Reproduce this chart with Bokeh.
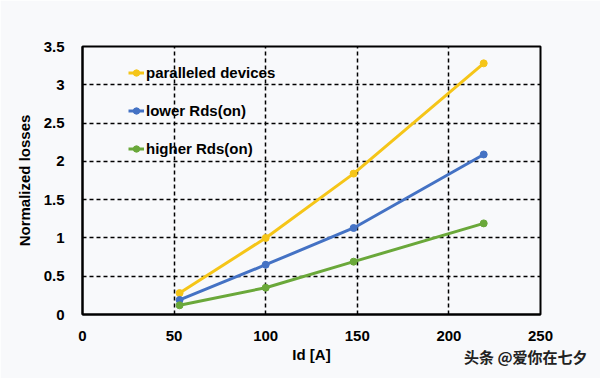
from bokeh.plotting import figure
from bokeh.models import Range1d, FixedTicker, Legend, LegendItem, Title
from bokeh.embed import file_html
from bokeh.resources import INLINE

x_vals = [53, 100, 148, 219]
paralleled = [0.28, 1.0, 1.84, 3.28]
lower_rds = [0.19, 0.65, 1.13, 2.09]
higher_rds = [0.12, 0.35, 0.69, 1.19]
series_names = ["paralleled devices", "lower Rds(on)", "higher Rds(on)"]
colors = ["#f5c518", "#4472c4", "#6aa83a"]
watermark = "头条 @爱你在七夕"

BG = "#f8f9fb"
FONT = "Liberation Sans"

p = figure(width=600, height=378, output_backend="svg", toolbar_location=None,
           x_range=Range1d(0, 250), y_range=Range1d(0, 3.5),
           min_border_left=82, min_border_right=60, min_border_top=46, min_border_bottom=64,
           background_fill_color=BG, border_fill_color=BG)

p.outline_line_color = "black"
p.outline_line_width = 2

for ax in (p.xaxis[0], p.yaxis[0]):
    ax.major_tick_line_color = None
    ax.minor_tick_line_color = None
    ax.axis_line_color = "black"
    ax.axis_line_width = 2
    ax.major_label_text_font = FONT
    ax.major_label_text_font_style = "bold"
    ax.major_label_text_font_size = "15px"
    ax.major_label_text_color = "black"
    ax.axis_label_text_font = FONT
    ax.axis_label_text_font_style = "bold"
    ax.axis_label_text_font_size = "15px"
    ax.axis_label_text_color = "black"

p.xaxis.ticker = FixedTicker(ticks=[0, 50, 100, 150, 200, 250])
p.yaxis.ticker = FixedTicker(ticks=[0, 0.5, 1, 1.5, 2, 2.5, 3, 3.5])
p.yaxis.major_label_overrides = {0: "0", 0.5: "0.5", 1: "1", 1.5: "1.5", 2: "2", 2.5: "2.5", 3: "3", 3.5: "3.5"}
p.xaxis.axis_label = "Id [A]"
p.yaxis.axis_label = "Normalized losses"
p.xaxis.major_label_standoff = 10
p.yaxis.major_label_standoff = 12
p.xaxis.axis_label_standoff = 2
p.yaxis.axis_label_standoff = 8

for g in (p.xgrid[0], p.ygrid[0]):
    g.grid_line_color = "black"
    g.grid_line_width = 1.5
    g.grid_line_dash = "4 3"

items = []
for name, ys, c in zip(series_names, [paralleled, lower_rds, higher_rds], colors):
    r1 = p.line(x_vals, ys, line_color=c, line_width=3)
    r2 = p.scatter(x_vals, ys, size=7, fill_color=c, line_color=c)
    items.append(LegendItem(label=name, renderers=[r1, r2]))

legend = Legend(items=items, location=(46, 157),
                background_fill_alpha=0, border_line_color=None,
                label_text_font=FONT, label_text_font_style="bold",
                label_text_font_size="15px", label_text_color="black",
                spacing=21, glyph_width=16, glyph_height=17,
                label_standoff=2, padding=0, margin=0)
p.add_layout(legend)

wm = Title(text=watermark, align="right", vertical_align="top",
           text_font="Noto Sans CJK SC",
           text_font_size="15px", text_font_style="bold", text_color="#222222",
           standoff=-40, offset=-47)
p.add_layout(wm, "below")

open("out.html", "w").write(file_html(p, INLINE))
